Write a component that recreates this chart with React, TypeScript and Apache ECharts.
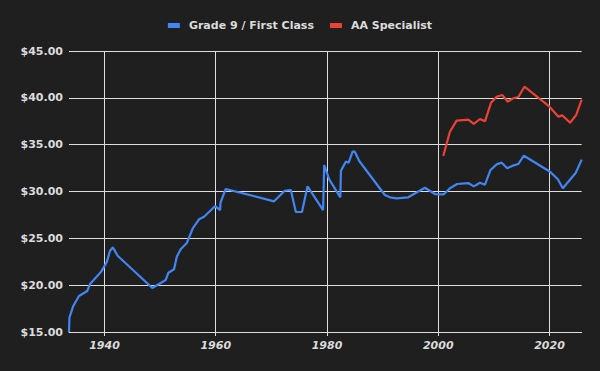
import React, { useEffect, useRef } from "react";
import * as echarts from "echarts";

const gradeYears = [
  1933.62, 1933.7, 1934.39, 1935.42, 1936.9, 1937.4, 1939.4, 1940.4, 1941.0, 1941.5,
  1942.4, 1948.6, 1951.0, 1951.5, 1952.5, 1953.0, 1953.7, 1954.8, 1955.9, 1957.0,
  1957.9, 1959.9, 1960.8, 1960.85, 1961.8, 1970.5, 1972.4, 1973.5, 1974.4, 1975.5,
  1976.5, 1979.3, 1979.5, 1980.4, 1982.4, 1982.5, 1983.4, 1983.9, 1984.6, 1985.0,
  1985.8, 1990.4, 1991.3, 1992.5, 1994.6, 1997.6, 1999.4, 2001.0, 2002.1, 2003.4,
  2005.4, 2006.4, 2007.5, 2008.4, 2009.4, 2010.5, 2011.4, 2012.4, 2013.4, 2014.4,
  2015.4, 2020.1, 2021.5, 2022.4, 2024.7, 2025.79,
];
const gradeValues = [
  15.0, 16.57, 17.78, 18.84, 19.38, 20.12, 21.44, 22.44, 23.68, 24.04,
  23.11, 19.7, 20.55, 21.33, 21.7, 23.04, 23.83, 24.5, 26.1, 27.03,
  27.31, 28.45, 28.02, 28.8, 30.27, 28.95, 30.08, 30.16, 27.81, 27.81,
  30.55, 28.02, 32.83, 31.3, 29.38, 32.2, 33.2, 33.08, 34.25, 34.25,
  33.26, 29.63, 29.38, 29.27, 29.38, 30.4, 29.73, 29.7, 30.34, 30.8,
  30.9, 30.55, 30.94, 30.73, 32.3, 32.9, 33.08, 32.48, 32.76, 32.94,
  33.82, 32.11, 31.3, 30.34, 31.97, 33.4,
];

const aaYears = [
  2000.9, 2002.1, 2003.3, 2005.4, 2006.4, 2007.5, 2008.4, 2009.5, 2010.5, 2011.5,
  2012.5, 2013.5, 2014.4, 2015.5, 2020.0, 2021.6, 2022.3, 2023.7, 2024.8, 2025.79,
];
const aaValues = [
  33.79, 36.38, 37.56, 37.67, 37.21, 37.74, 37.49, 39.48, 40.12, 40.3,
  39.59, 39.95, 40.09, 41.19, 39.05, 37.99, 38.13, 37.34, 38.17, 39.8,
];

const xTickYears = [1940, 1960, 1980, 2000, 2020];
const seriesNames = ["Grade 9 / First Class", "AA Specialist"];

export default function App() {
  const ref = useRef<HTMLDivElement>(null);
  useEffect(() => {
    if (!ref.current) return;
    const chart = echarts.init(ref.current, null, { renderer: "svg" });
    const font = "DejaVu Sans";
    chart.setOption({
      animation: false,
      backgroundColor: "#1f1f1f",
      legend: {
        top: 15,
        left: "center",
        icon: "rect",
        itemWidth: 12,
        itemHeight: 5,
        itemGap: 16,
        textStyle: {
          color: "#dcdcdc",
          fontFamily: font,
          fontWeight: "bold",
          fontSize: 11,
          padding: [0, 0, 0, 4],
        },
        data: seriesNames,
      },
      grid: { left: 69, right: 18.3, top: 51, bottom: 39, containLabel: false },
      xAxis: {
        type: "value",
        min: "dataMin",
        max: "dataMax",
        axisLine: { show: true, lineStyle: { color: "#dedede", width: 1 } },
        axisTick: {
          show: true,
          length: 4,
          customValues: xTickYears,
          lineStyle: { color: "#dedede" },
        },
        axisLabel: {
          customValues: xTickYears,
          color: "#dcdcdc",
          fontFamily: font,
          fontWeight: "bold",
          fontStyle: "italic",
          fontSize: 11,
          margin: 8,
          formatter: (v: number) => String(Math.round(v)),
        },
        splitLine: { show: true, lineStyle: { color: "#dedede", width: 1 } },
      },
      yAxis: {
        type: "value",
        min: 15,
        max: 45,
        interval: 5,
        axisLine: { show: false },
        axisTick: { show: false },
        axisLabel: {
          color: "#dcdcdc",
          fontFamily: font,
          fontWeight: "bold",
          fontSize: 11,
          margin: 6,
          formatter: (v: number) => "$" + v.toFixed(2),
        },
        splitLine: { show: true, lineStyle: { color: "#dedede", width: 1 } },
      },
      series: [
        {
          name: seriesNames[0],
          type: "line",
          data: gradeYears.map((y, i) => [y, gradeValues[i]]),
          showSymbol: false,
          symbol: "none",
          lineStyle: { color: "#4285f4", width: 2.2 },
          itemStyle: { color: "#4285f4" },
        },
        {
          name: seriesNames[1],
          type: "line",
          data: aaYears.map((y, i) => [y, aaValues[i]]),
          showSymbol: false,
          symbol: "none",
          lineStyle: { color: "#ea4335", width: 2.2 },
          itemStyle: { color: "#ea4335" },
        },
      ],
    });
    return () => chart.dispose();
  }, []);
  return (
    <div
      ref={ref}
      style={{ position: "absolute", left: 0, top: 0, width: 600, height: 371 }}
    />
  );
}
